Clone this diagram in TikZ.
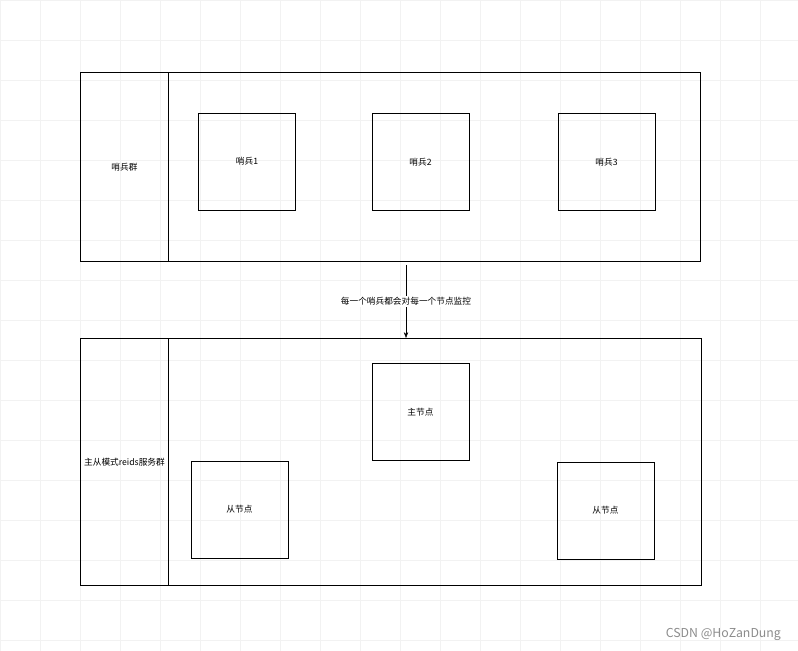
\documentclass[tikz,border=0pt]{standalone}
\usepackage{fontspec}
\setmainfont{Noto Sans CJK SC}
\usetikzlibrary{arrows.meta}
\definecolor{gridgray}{RGB}{242,242,242}
\definecolor{markgray}{RGB}{140,140,140}

\begin{document}
\begin{tikzpicture}[x=0.03cm,y=-0.03cm, font=\fontsize{7.4}{8}\selectfont]
  \tikzset{
    group/.style={draw, thick, anchor=north west, inner sep=0pt},
    member/.style={draw, thick, minimum width=2.91cm, minimum height=2.91cm},
  }
  \useasboundingbox (0,0) rectangle (798,651);
  \fill[white] (0,0) rectangle (798,651);
  \foreach \gx in {0,40,...,798} \draw[gridgray] (\gx,0) -- (\gx,651);
  \foreach \gy in {0,40,...,651} \draw[gridgray] (0,\gy) -- (798,\gy);

  % sentinel group
  \node[group, minimum width=18.6cm, minimum height=5.67cm] (sentinels) at (80,72) {};
  \node[group, minimum width=2.64cm, minimum height=5.67cm] (sentinelslabel) at (80,72) {};
  \node at (sentinelslabel.center) {哨兵群};
  \node[member] (sentinel1) at (247,161.5) {哨兵1};
  \node[member] (sentinel2) at (420.5,162) {哨兵2};
  \node[member] (sentinel3) at (606.5,162) {哨兵3};

  % redis group
  \node[group, minimum width=18.63cm, minimum height=7.41cm] (redis) at (80,338) {};
  \node[group, minimum width=2.64cm, minimum height=7.41cm] (redislabel) at (80,338) {};
  \node at (redislabel.center) {主从模式reids服务群};
  \node[member] (master) at (420.5,412) {主节点};
  \node[member] (slave1) at (239.5,509.5) {从节点};
  \node[member] (slave2) at (605.5,510.5) {从节点};

  \coordinate (watchfrom) at (406,265);
  \draw[-{Stealth[length=5pt]}] (watchfrom) -- (watchfrom |- redis.north)
    node[midway, fill=white, inner sep=1pt] {每一个哨兵都会对每一个节点监控};

  \node[markgray, font=\fontsize{10.5}{12}\selectfont, anchor=east] (watermark) at (785,634) {CSDN @HoZanDung};
\end{tikzpicture}
\end{document}
